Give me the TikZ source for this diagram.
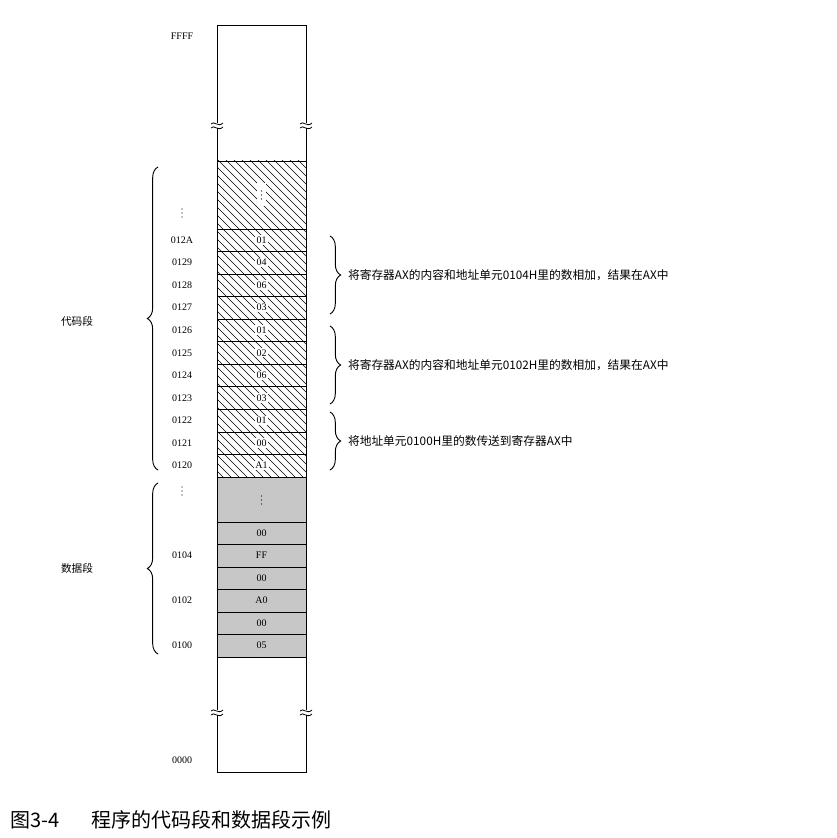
\documentclass[tikz,border=0pt]{standalone}
\usepackage{fontspec}
\setmainfont{Liberation Serif}
\newfontfamily\cjk{Noto Sans CJK SC}
\usetikzlibrary{patterns,decorations.pathreplacing}
\pgfdeclarepatternformonly{widenw}{\pgfqpoint{-1pt}{-1pt}}{\pgfqpoint{7pt}{7pt}}{\pgfqpoint{6pt}{6pt}}{
  \pgfsetlinewidth{0.5pt}
  \pgfpathmoveto{\pgfqpoint{0pt}{6pt}}
  \pgfpathlineto{\pgfqpoint{6.1pt}{-0.1pt}}
  \pgfusepath{stroke}}
\begin{document}
\begin{tikzpicture}[x=0.75pt,y=-0.75pt,
  cell/.style={draw,line width=0.6pt},
  lab/.style={font=\fontsize{7.5}{9}\selectfont},
  note/.style={font=\cjk\fontsize{8.8}{10}\selectfont,anchor=west},
  brc/.style={decorate,decoration={brace,amplitude=8pt},line width=0.7pt},
  brk/.style={line width=0.6pt}]
\useasboundingbox (0,0) rectangle (837,838);
\newcommand\vdts[2]{\foreach \dd in {-4,0,4}{\fill (#1,#2+\dd) circle (0.5pt);}}
% outer column
\draw[cell] (217,25) rectangle (306,772);
% hatched code segment
\fill[pattern=widenw] (217,161) rectangle (306,477);
\draw[cell] (217,161) rectangle (306,477);
\fill[white] (257,183) rectangle (266,206);
\vdts{261.5}{195}
\foreach \i/\v/\a in {0/01/012A,1/04/0129,2/06/0128,3/03/0127,4/01/0126,5/02/0125,6/06/0124,7/03/0123,8/01/0122,9/00/0121,10/A1/0120}{
  \draw[cell] (217,{229+22.55*\i}) -- (306,{229+22.55*\i});
  \node[lab,fill=white,inner sep=1pt] (c\i) at (261.5,{240+22.55*\i}) {\v};
  \node[lab] (a\i) at (182,{240+22.55*\i}) {\a};
}
% gray data segment
\fill[black!22] (217,477) rectangle (306,657);
\draw[cell] (217,477) rectangle (306,657);
\vdts{261.5}{500}
\foreach \i/\v/\a in {0/00/,1/FF/0104,2/00/,3/A0/0102,4/00/,5/05/0100}{
  \draw[cell] (217,{522+22.5*\i}) -- (306,{522+22.5*\i});
  \node[lab] (d\i) at (261.5,{533+22.5*\i}) {\v};
  \node[lab] (b\i) at (182,{533+22.5*\i}) {\a};
}
\node[lab] (top) at (182,36) {FFFF};
\node[lab] (bot) at (182,760) {0000};
\vdts{182}{213}
\vdts{182}{491}
% break marks
\foreach \y in {125,712}{
  \foreach \x in {217,306}{
    \fill[white] (\x-6,\y-2) rectangle (\x+6,\y+3);
    \draw[brk] (\x-6,\y-1) .. controls (\x-3,\y-5) and (\x+1,\y+3) .. (\x+6,\y-2);
    \draw[brk] (\x-6,\y+3) .. controls (\x-3,\y-1) and (\x+1,\y+7) .. (\x+6,\y+2);
  }
}
% left braces
\draw[brc] (158,470) -- (158,167) coordinate[midway] (lb1);
\draw[brc] (158,654) -- (158,483) coordinate[midway] (lb2);
\node[font=\cjk\fontsize{8}{10}\selectfont] (cs) at (77,321) {代码段};
\node[font=\cjk\fontsize{8}{10}\selectfont] (ds) at (77,568) {数据段};
% right braces
\draw[brc] (330,236) -- (330,314) coordinate[midway] (r1);
\draw[brc] (330,326) -- (330,404) coordinate[midway] (r2);
\draw[brc] (330,412) -- (330,470) coordinate[midway] (r3);
\node[note] (n1) at ([xshift=10pt]r1) {将寄存器AX的内容和地址单元0104H里的数相加，结果在AX中};
\node[note] (n2) at ([xshift=10pt]r2) {将寄存器AX的内容和地址单元0102H里的数相加，结果在AX中};
\node[note] (n3) at ([xshift=10pt]r3) {将地址单元0100H里的数传送到寄存器AX中};
\node[anchor=west,font=\cjk\fontsize{15}{17}\selectfont] (cap) at (6,820) {图3-4\hspace{1.6em}程序的代码段和数据段示例};
\end{tikzpicture}
\end{document}
